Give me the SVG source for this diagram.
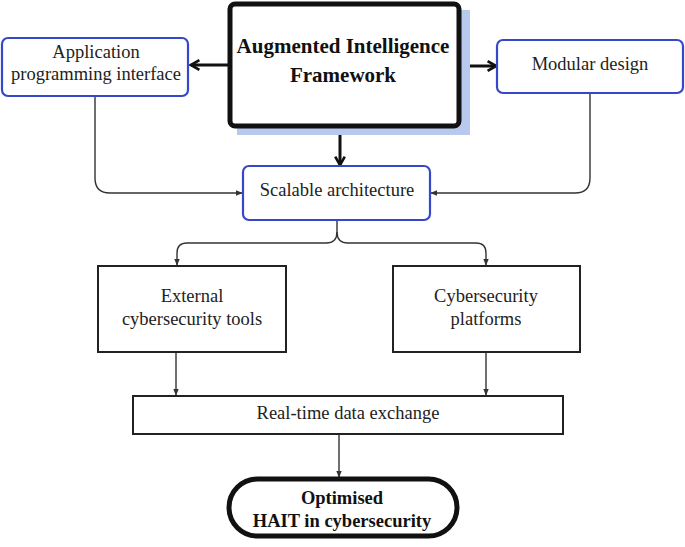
<svg xmlns="http://www.w3.org/2000/svg" width="685" height="547" viewBox="0 0 685 547">
<style>
.t{font-size:18.5px;fill:#222;text-anchor:middle}
.b{font-weight:bold;fill:#111;text-anchor:middle}
.blue{fill:#fff;stroke:#3548cc;stroke-width:2.2}
.plain{fill:#fff;stroke:#222;stroke-width:2}
.c{fill:none;stroke:#333;stroke-width:1.4}
.ct{fill:none;stroke:#111;stroke-width:3}
</style>
<defs>
<marker id="a" viewBox="0 0 10 10" refX="9" refY="5" markerWidth="7" markerHeight="7" markerUnits="userSpaceOnUse" orient="auto">
<path d="M0,1 L10,5 L0,9 Z" fill="#333"/>
</marker>
<marker id="ab" viewBox="0 0 10 10" refX="8" refY="5" markerWidth="4" markerHeight="4" orient="auto">
<path d="M1,1 L8,5 L1,9" fill="none" stroke="#111" stroke-width="2.2"/>
</marker>
</defs>
<rect width="685" height="547" fill="#fff"/>
<g id="connectors">
<line class="ct" x1="228" y1="65" x2="191" y2="65" marker-end="url(#ab)"/>
<line class="ct" x1="460" y1="66" x2="496" y2="66" marker-end="url(#ab)"/>
<line class="ct" x1="340" y1="127" x2="340" y2="165" marker-end="url(#ab)"/>
<path class="c" d="M95,96 V178 Q95,193 110,193 H242" marker-end="url(#a)"/>
<path class="c" d="M590,93 V178 Q590,193 575,193 H431" marker-end="url(#a)"/>
<path class="c" d="M337,220 V232 Q337,243 326,243 H187 Q177,243 177,253 V265" marker-end="url(#a)"/>
<path class="c" d="M337,232 Q337,243 348,243 H476 Q486,243 486,253 V265" marker-end="url(#a)"/>
<line class="c" x1="176" y1="352" x2="176" y2="395" marker-end="url(#a)"/>
<line class="c" x1="486" y1="352" x2="486" y2="395" marker-end="url(#a)"/>
<line class="c" x1="339" y1="434" x2="339" y2="477" marker-end="url(#a)"/>
</g>
<g font-family="Liberation Serif, DejaVu Serif, serif">
<g id="main">
<rect x="237" y="10" width="233" height="125" fill="#b9c9ee"/>
<rect x="230" y="4" width="229" height="122" rx="5" fill="#fff" stroke="#111" stroke-width="5"/>
<text class="b" x="343" y="53" font-size="21">Augmented Intelligence</text>
<text class="b" x="343" y="82" font-size="21">Framework</text>
</g>
<g id="api">
<rect class="blue" x="2" y="38" width="186" height="58" rx="6"/>
<text class="t" x="96" y="58">Application</text>
<text class="t" x="96" y="80">programming interface</text>
</g>
<g id="modular">
<rect class="blue" x="497" y="40" width="186" height="53" rx="6"/>
<text class="t" x="590" y="70">Modular design</text>
</g>
<g id="scalable">
<rect class="blue" x="243" y="166" width="187" height="54" rx="6"/>
<text class="t" x="337" y="196">Scalable architecture</text>
</g>
<g id="external">
<rect class="plain" x="98" y="266" width="188" height="86"/>
<text class="t" x="192" y="302">External</text>
<text class="t" x="192" y="325">cybersecurity tools</text>
</g>
<g id="platforms">
<rect class="plain" x="393" y="266" width="187" height="86"/>
<text class="t" x="486" y="302">Cybersecurity</text>
<text class="t" x="486" y="325">platforms</text>
</g>
<g id="realtime">
<rect class="plain" x="133" y="396" width="430" height="38"/>
<text class="t" x="348" y="419">Real-time data exchange</text>
</g>
<g id="optimised">
<rect x="229" y="479" width="228" height="57" rx="28.5" fill="#fff" stroke="#111" stroke-width="5"/>
<text class="b" x="342" y="504" font-size="18.5">Optimised</text>
<text class="b" x="342" y="527" font-size="18.5">HAIT in cybersecurity</text>
</g>
</g>
</svg>
